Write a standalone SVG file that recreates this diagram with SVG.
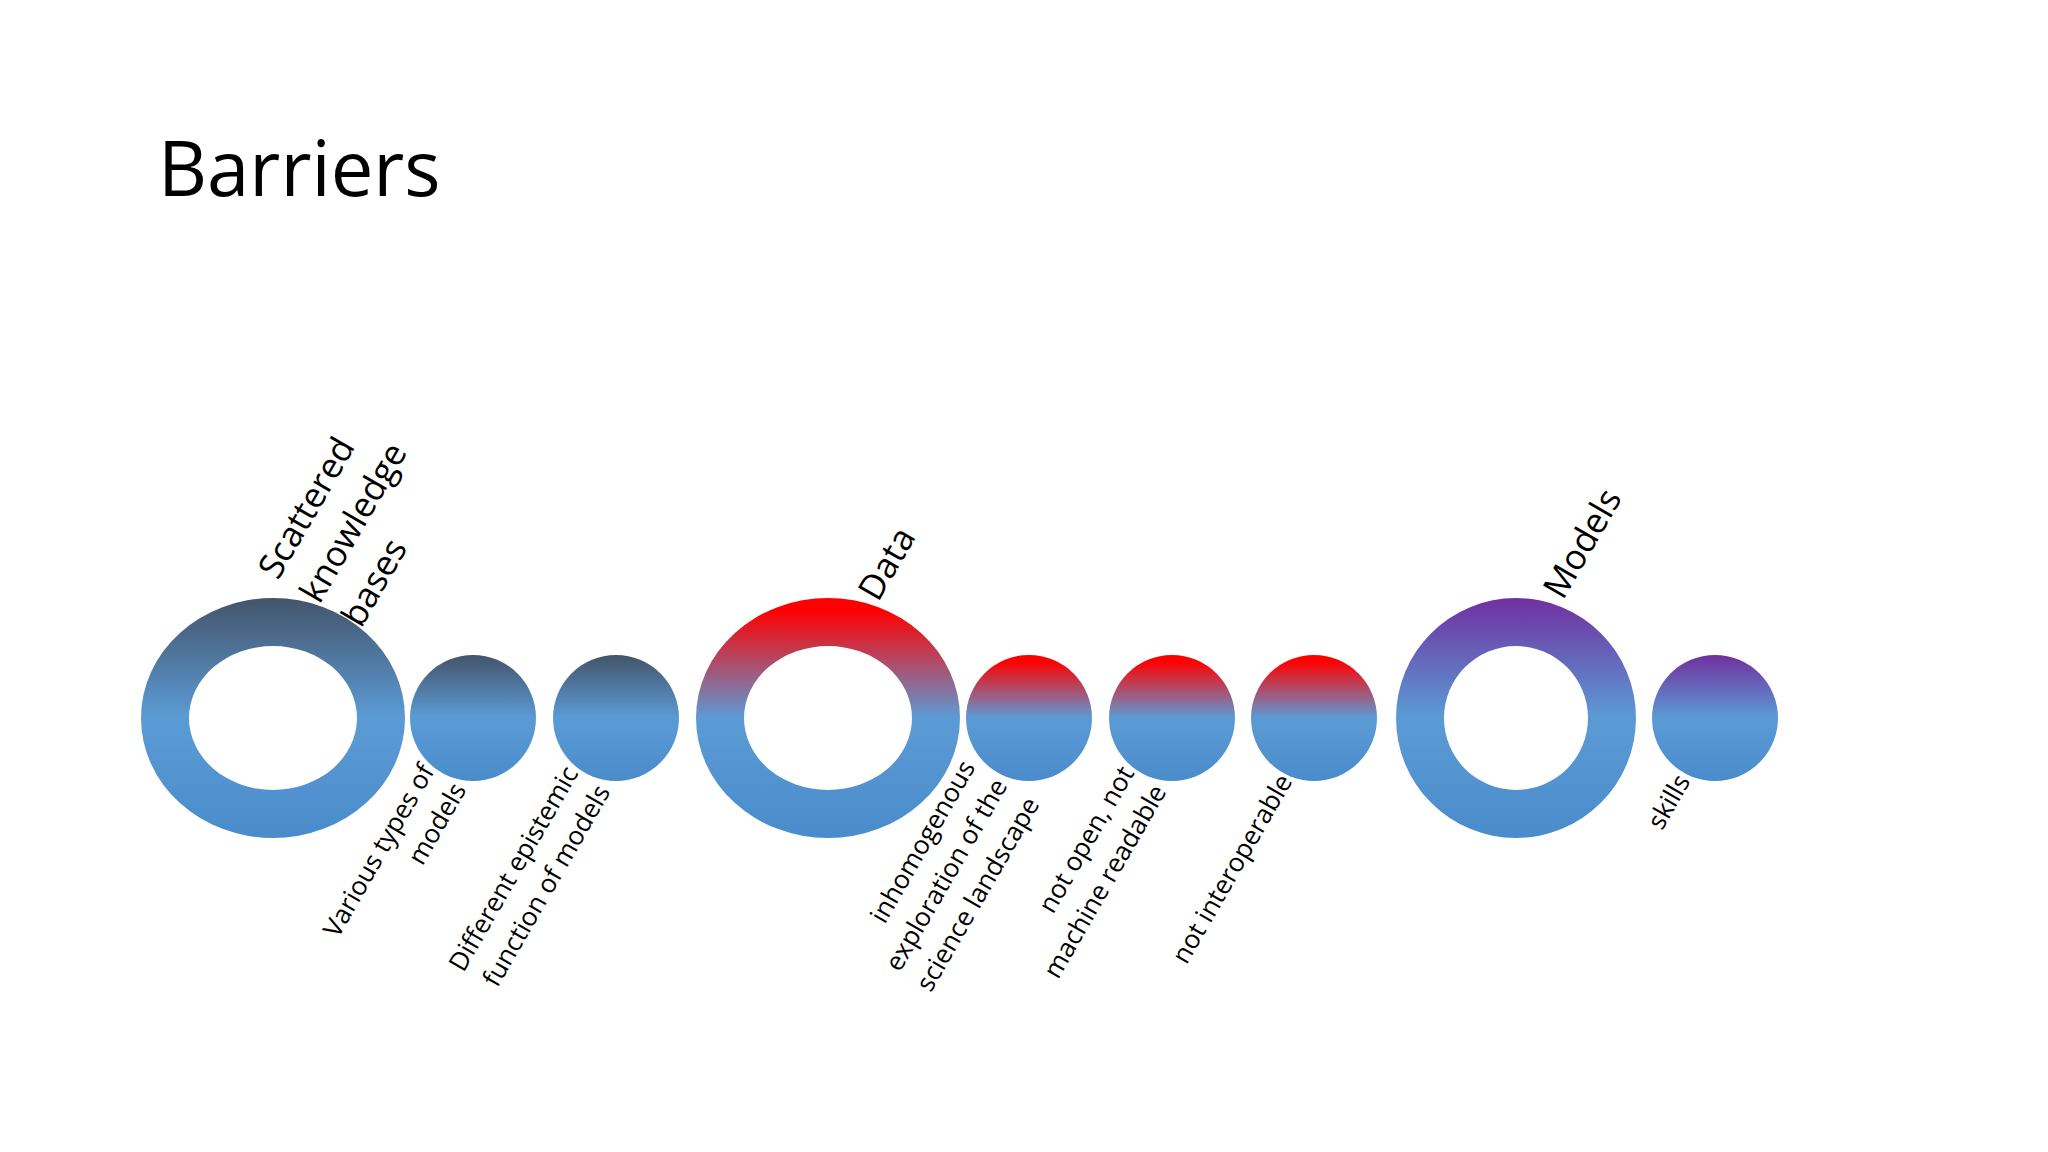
<svg xmlns="http://www.w3.org/2000/svg" width="2048" height="1152" viewBox="0 0 2048 1152">
<style>
text{font-family:"Open Sans","Liberation Sans",sans-serif;fill:#000}
.h{font-size:35px}
.s{font-size:26px}
</style>
<defs>
<linearGradient id="gg" x1="0" y1="0" x2="0" y2="1"><stop offset="0" stop-color="#44546a"/><stop offset="0.5" stop-color="#5b9bd5"/><stop offset="1" stop-color="#4a8bcb"/></linearGradient>
<linearGradient id="gr" x1="0" y1="0" x2="0" y2="1"><stop offset="0.05" stop-color="#ff0000"/><stop offset="0.5" stop-color="#5b9bd5"/><stop offset="1" stop-color="#4a8bcb"/></linearGradient>
<linearGradient id="gp" x1="0" y1="0" x2="0" y2="1"><stop offset="0" stop-color="#7030a0"/><stop offset="0.5" stop-color="#5b9bd5"/><stop offset="1" stop-color="#4a8bcb"/></linearGradient>
</defs>
<rect width="2048" height="1152" fill="#fff"/>
<text x="158" y="196" style="font-size:76px">Barriers</text>
<g id="n1"><path fill="url(#gg)" fill-rule="evenodd" d="M141,718a132,120 0 1,0 264,0a132,120 0 1,0 -264,0zM189,718a84,72 0 1,0 168,0a84,72 0 1,0 -168,0z"/>
<text class="h" transform="translate(278,581) rotate(-60)"><tspan x="0">Scattered</tspan><tspan x="0" dy="48">knowledge</tspan><tspan x="0" dy="48">bases</tspan></text></g>
<g id="n2"><circle cx="473" cy="718" r="63" fill="url(#gg)"/>
<text class="s" text-anchor="end" transform="translate(435,771) rotate(-60)"><tspan x="0">Various types of</tspan><tspan x="0" dy="37">models</tspan></text></g>
<g id="n3"><circle cx="616" cy="718" r="63" fill="url(#gg)"/>
<text class="s" text-anchor="end" transform="translate(579,773) rotate(-60)"><tspan x="0">Different epistemic</tspan><tspan x="0" dy="37">function of models</tspan></text></g>
<g id="n4"><path fill="url(#gr)" fill-rule="evenodd" d="M696,718a132,120 0 1,0 264,0a132,120 0 1,0 -264,0zM744,718a84,72 0 1,0 168,0a84,72 0 1,0 -168,0z"/>
<text class="h" transform="translate(878,603) rotate(-60)">Data</text></g>
<g id="n5"><circle cx="1029" cy="718" r="63" fill="url(#gr)"/>
<text class="s" text-anchor="end" transform="translate(976,767) rotate(-60)"><tspan x="0">inhomogenous</tspan><tspan x="0" dy="37">exploration of the</tspan><tspan x="0" dy="37">science landscape</tspan></text></g>
<g id="n6"><circle cx="1172" cy="718" r="63" fill="url(#gr)"/>
<text class="s" text-anchor="end" transform="translate(1135,773) rotate(-60)"><tspan x="0">not open, not</tspan><tspan x="0" dy="37">machine readable</tspan></text></g>
<g id="n7"><circle cx="1314" cy="718" r="63" fill="url(#gr)"/>
<text class="s" text-anchor="end" transform="translate(1293,781) rotate(-60)">not interoperable</text></g>
<g id="n8"><path fill="url(#gp)" fill-rule="evenodd" d="M1396,718a120,120 0 1,0 240,0a120,120 0 1,0 -240,0zM1444,718a72,72 0 1,0 144,0a72,72 0 1,0 -144,0z"/>
<text class="h" transform="translate(1563,601) rotate(-60)">Models</text></g>
<g id="n9"><circle cx="1715" cy="718" r="63" fill="url(#gp)"/>
<text class="s" text-anchor="end" transform="translate(1691,781) rotate(-60)">skills</text></g>
<g id="connectors"/>
</svg>
